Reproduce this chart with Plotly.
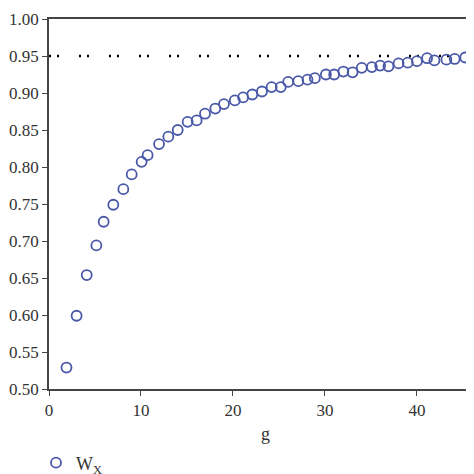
import plotly.graph_objects as go

g = [1.9, 3.0, 4.1, 5.15, 5.94, 6.99, 8.08, 8.99, 10.07, 10.72, 11.96, 12.97, 13.99, 15.07,
     16.05, 16.96, 18.08, 19.02, 20.2, 21.1, 22.1, 23.15, 24.2, 25.2, 26.0, 27.1, 28.1, 28.9,
     30.1, 31.0, 32.0, 33.0, 34.0, 35.1, 36.0, 36.9, 38.0, 39.0, 40.0, 41.1, 41.9, 43.2, 44.1,
     45.25, 46.0, 46.9]
wx = [0.529, 0.599, 0.654, 0.694, 0.726, 0.749, 0.770, 0.790, 0.807, 0.816, 0.831, 0.841, 0.850,
      0.861, 0.863, 0.872, 0.879, 0.885, 0.890, 0.894, 0.898, 0.902, 0.908, 0.908, 0.915, 0.916,
      0.918, 0.920, 0.925, 0.925, 0.929, 0.928, 0.934, 0.935, 0.937, 0.936, 0.940, 0.941, 0.943,
      0.947, 0.944, 0.945, 0.946, 0.948, 0.950, 0.951]
target = 0.95

fig = go.Figure()
fig.add_trace(go.Scatter(x=g, y=wx, mode="markers", name="W<sub>X</sub>",
                         marker=dict(symbol="circle-open", size=10, color="#4a58a8",
                                     line=dict(width=1.8, color="#4a58a8"))))
fig.add_hline(y=target, line=dict(color="black", width=2.5, dash="2px,6px,2px,20px"), layer="below")

axis_font = dict(family="Liberation Serif, serif", size=17, color="#333")
fig.update_layout(
    width=474, height=474, plot_bgcolor="white", paper_bgcolor="white",
    margin=dict(l=41, r=0, t=11, b=93, autoexpand=False),
    font=axis_font,
    showlegend=True,
    legend=dict(x=-0.03, y=-0.15, xanchor="left", yanchor="top", bgcolor="rgba(0,0,0,0)",
                font=dict(family="Liberation Serif, serif", size=18, color="#333")),
    xaxis=dict(range=[0, 47.07], tickvals=[0, 10, 20, 30, 40], showgrid=False, zeroline=False,
               showline=True, linecolor="#444", linewidth=1.5, mirror=True, automargin=False,
               ticks="outside", ticklen=5, tickcolor="#444",
               title=dict(text="g", font=dict(family="Liberation Serif, serif", size=18), standoff=8)),
    yaxis=dict(range=[0.5, 1.0], tickvals=[0.5, 0.55, 0.6, 0.65, 0.7, 0.75, 0.8, 0.85, 0.9, 0.95, 1.0],
               tickformat=".2f", showgrid=False, zeroline=False, automargin=False,
               showline=True, linecolor="#444", linewidth=1.5,
               ticks="outside", ticklen=5, tickcolor="#444"),
)
fig.write_html("out.html")
